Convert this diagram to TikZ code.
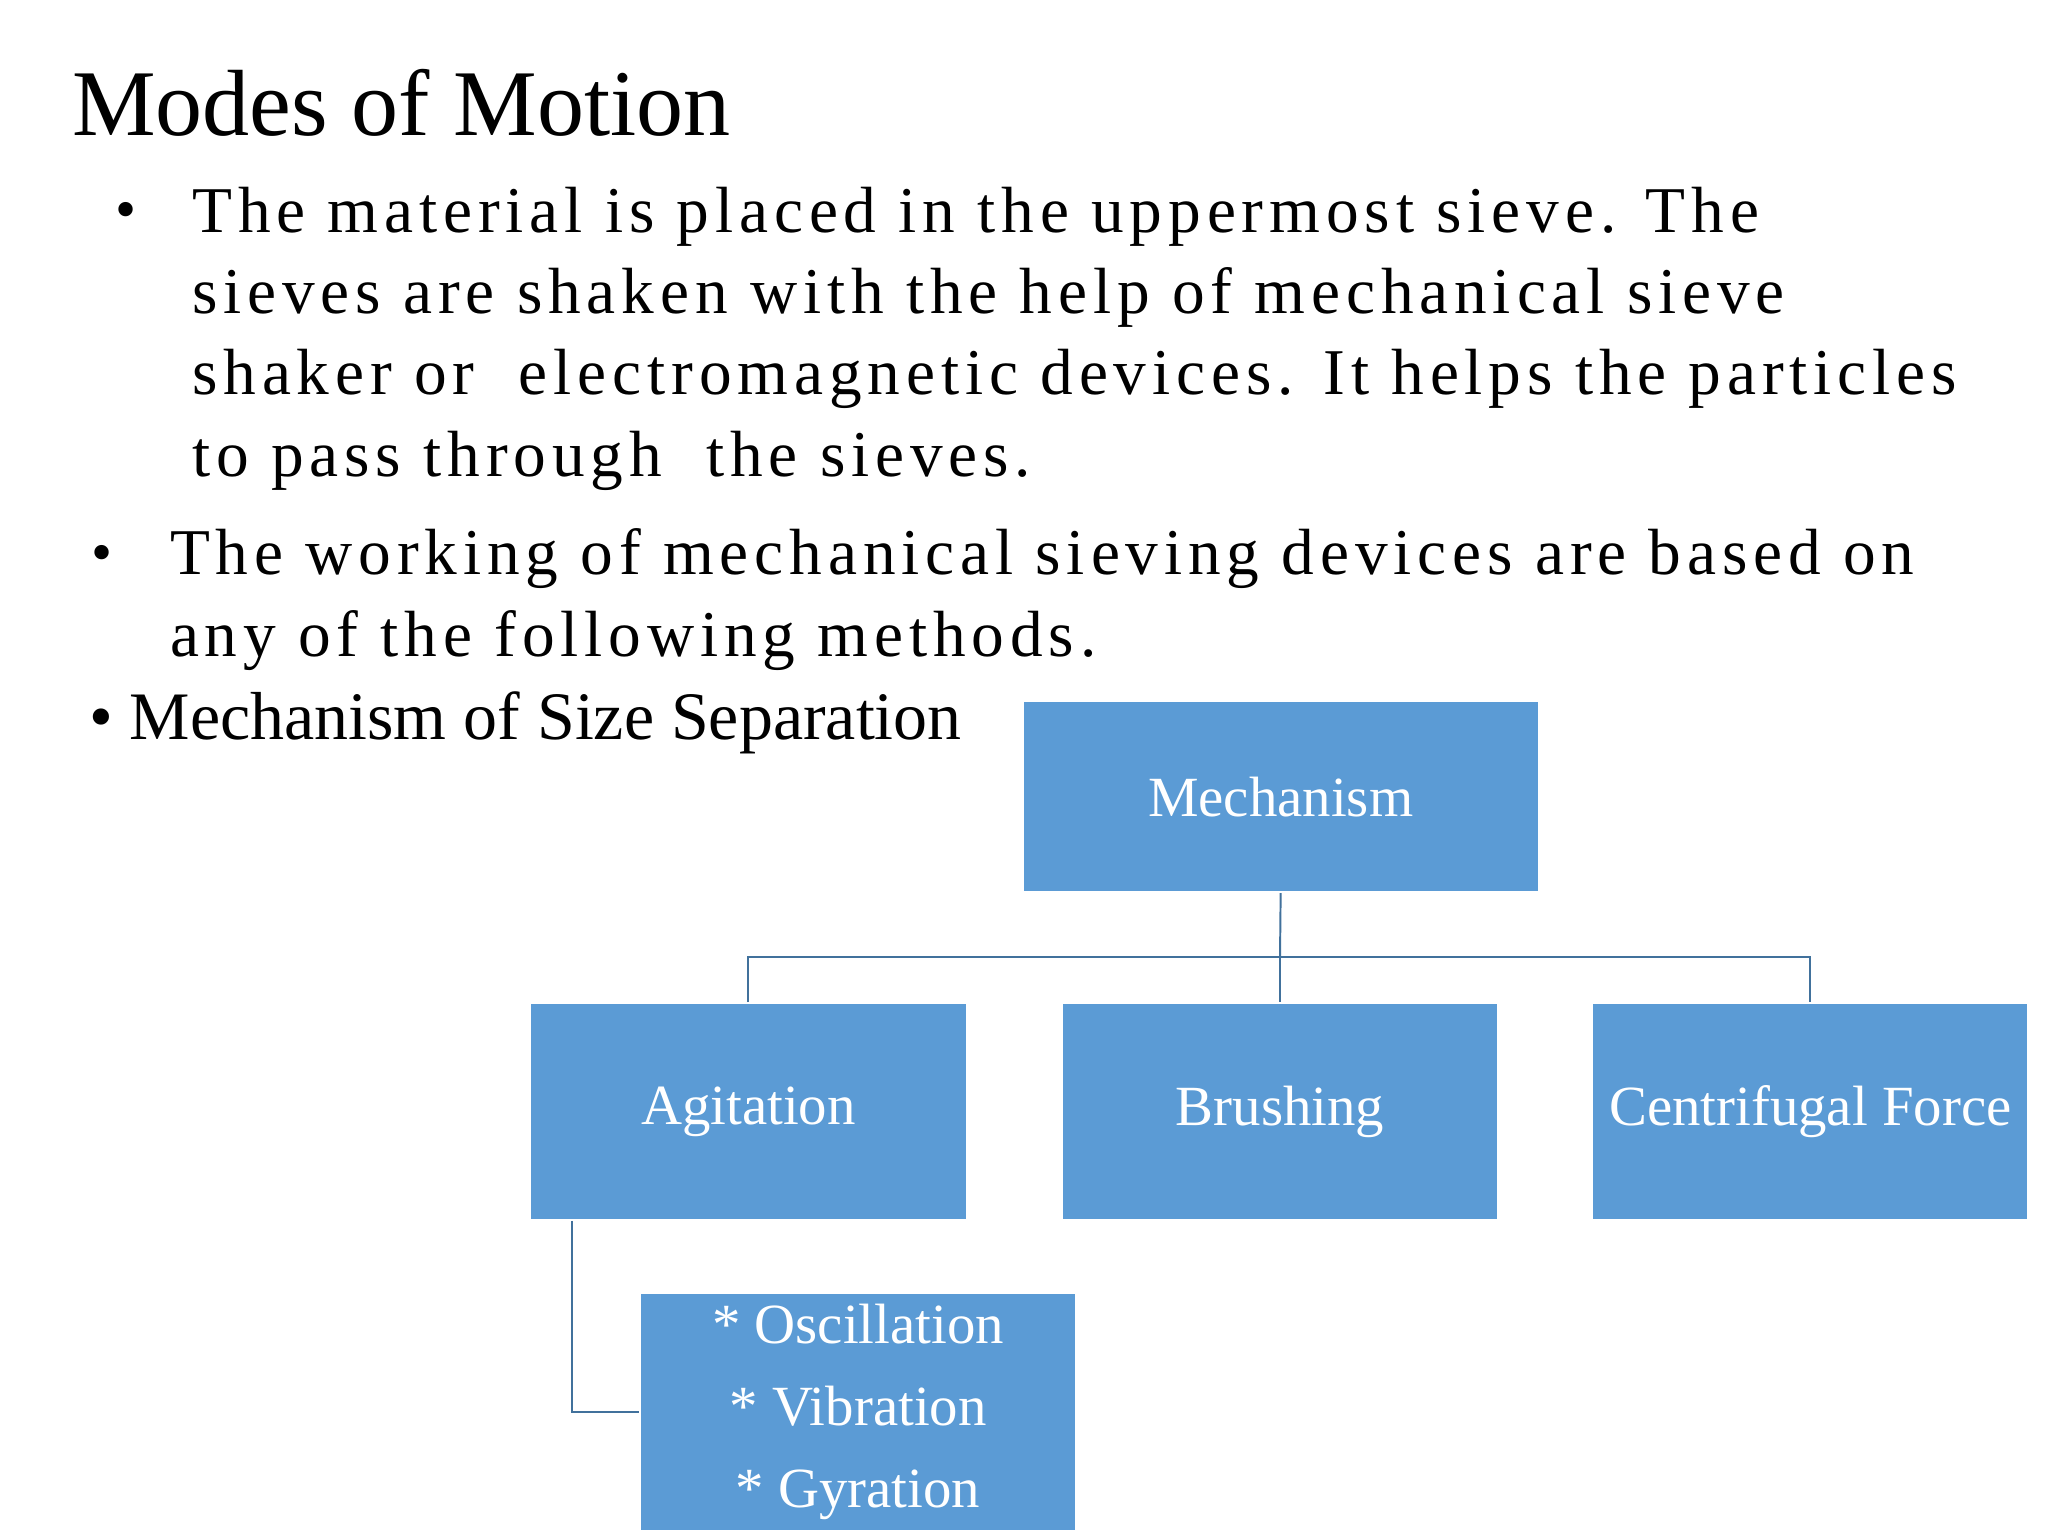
\documentclass[tikz,border=0pt]{standalone}
\usepackage{fontspec}
\setmainfont{Liberation Serif}
\newfontfamily\spaced[LetterSpace=9]{Liberation Serif}
\begin{document}
\begin{tikzpicture}[x=1pt,y=-1pt,
  bx/.style={draw=white,line width=1.5pt,fill=boxblue,text=white,inner sep=0pt,font=\fontsize{43.5}{63}\selectfont,align=center},
  conn/.style={draw=lineblue,line width=1.5pt},
  ln/.style={anchor=base west,inner sep=0pt,font=\spaced\fontsize{50}{62}\selectfont}]
\definecolor{boxblue}{HTML}{5B9BD5}
\definecolor{lineblue}{HTML}{41719C}
\useasboundingbox[fill=white] (0,0) rectangle (1568,1176);
\node[anchor=base west,inner sep=0pt,font=\fontsize{72}{70}\selectfont] (title) at (55,104) {Modes of Motion};
\node[anchor=base west,inner sep=0pt,font=\fontsize{46}{62}\selectfont] (b1) at (88,176) {•};
\node[ln,text width=1373pt,align=justify] (l1) at (147,178) {The material is placed in the uppermost sieve. The};
\node[ln,text width=1373pt,align=justify] (l2) at (147,240) {sieves are shaken with the help of mechanical sieve};
\node[ln,text width=1373pt,align=justify] (l3) at (147,302) {shaker or \ electromagnetic devices. It helps the particles};
\node[ln] (l4) at (147,365) {to pass through \ the sieves.};
\node[anchor=base west,inner sep=0pt,font=\fontsize{46}{62}\selectfont] (b2) at (70,438) {•};
\node[ln] (l5) at (130,440) {The working of mechanical sieving devices are based on};
\node[ln] (l6) at (130,503) {any of the following methods.};
\node[anchor=base west,inner sep=0pt,font=\fontsize{52}{62}\selectfont] (p3) at (68,566) {• Mechanism of Size Separation};
\node[bx,minimum width=395pt,minimum height=146pt] (m) at (980.5,610) {\raisebox{-3pt}{Mechanism}};
\node[bx,minimum width=334pt,minimum height=166pt] (a) at (573,851) {\raisebox{-5pt}{Agitation}};
\node[bx,minimum width=334pt,minimum height=166pt] (b) at (980,851) {\raisebox{-5pt}{Brushing}};
\node[bx,minimum width=334pt,minimum height=166pt] (c) at (1386,851) {\raisebox{-5pt}{Centrifugal Force}};
\node[bx,minimum width=334pt,minimum height=182pt] (s) at (657,1081) {* Oscillation\\* Vibration\\* Gyration};
\coordinate (j) at (980,733);
\draw[conn] (m.south) -- (j);
\draw[conn] (a.north) |- (j) -| (c.north);
\draw[conn] (j) -- (b.north);
\draw[conn] ([xshift=-135pt]a.south) |- (s.west);
\end{tikzpicture}
\end{document}
